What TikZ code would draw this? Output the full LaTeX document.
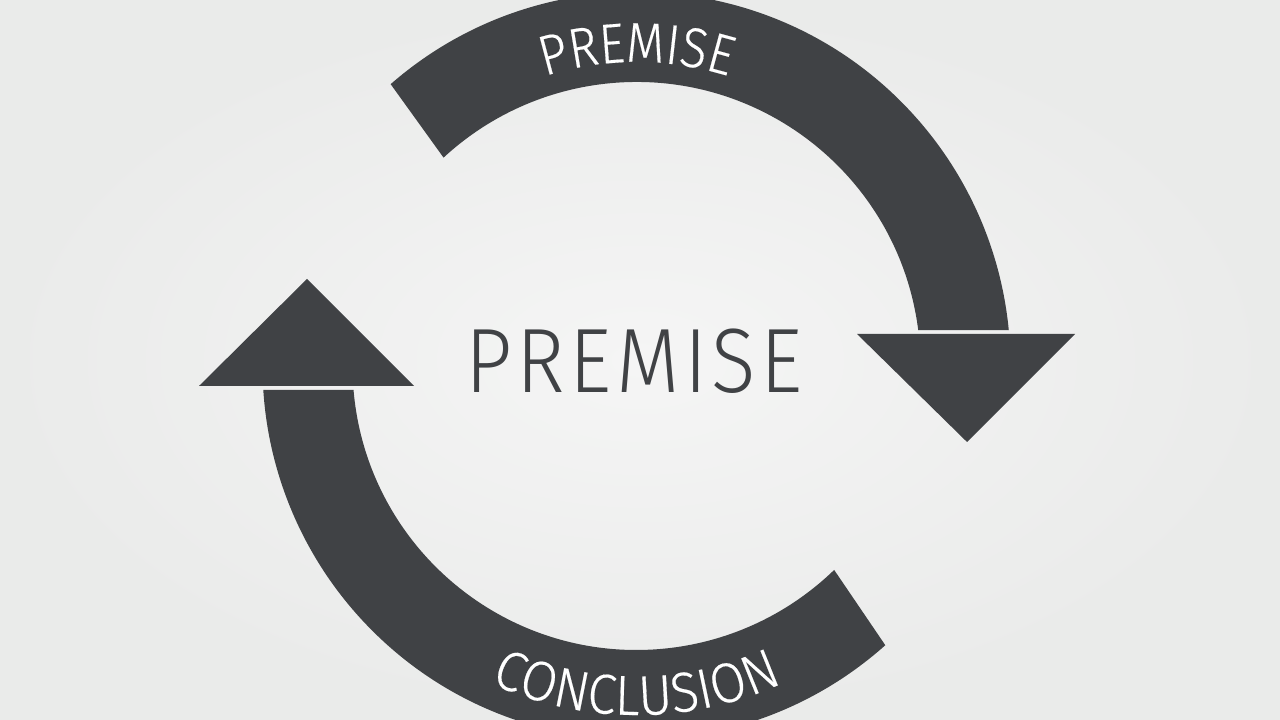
\documentclass[tikz,border=0pt]{standalone}
\usepackage{fontspec}
\setmainfont{Fira Sans}
\newfontfamily\premfont{Fira Sans}[UprightFont=* Light, FakeStretch=0.9, LetterSpace=5]
\newfontfamily\topfont{Fira Sans}[UprightFont=* Light, FakeStretch=0.88, FakeBold=0.3]
\newfontfamily\botfont{Fira Sans}[UprightFont=* Light, FakeStretch=0.93, FakeBold=0.3]
\usetikzlibrary{decorations.text}
\definecolor{arrowgray}{HTML}{404245}
\definecolor{bgcenter}{HTML}{F5F5F5}
\definecolor{bgedge}{HTML}{EAEBEA}

\begin{document}
\begin{tikzpicture}

  \useasboundingbox (0,0) rectangle (12.8,7.2);
  \shade[inner color=bgcenter, outer color=bgedge] (0,0) rectangle (12.8,7.2);

  \begin{scope}[shift={(6.365,3.54)}]
    \coordinate (c) at (0,0);

    % upper band and its head
    \fill[arrowgray] (131.1:3.74) arc[start angle=131.1, end angle=5.52, radius=3.74]
      -- (7.28:2.84) arc[start angle=7.28, end angle=132.8, radius=2.84] -- cycle;
    \fill[arrowgray] (2.205,0.32) -- (4.385,0.32) -- (3.305,-0.76) -- cycle;

    % lower band and its head
    \fill[arrowgray] (-48.3:3.74) arc[start angle=-48.3, end angle=-176.32, radius=3.74]
      -- (-175.15:2.84) arc[start angle=-175.15, end angle=-45.9, radius=2.84] -- cycle;
    \fill[arrowgray] (-4.375,-0.20) -- (-2.225,-0.20) -- (-3.295,0.87) -- cycle;

    % texts on the bands
    \path[decorate, decoration={text along path, text align=center, text color=white,
      text={|\topfont\fontsize{16}{16}\selectfont|PREMISE}}]
      (120:3.04) arc[start angle=120, end angle=60, radius=3.04];
    \path[decorate, decoration={text along path, text align=center, text color=white,
      text={|\botfont\fontsize{16}{16}\selectfont|CONCLUSION}}]
      (-125:3.49) arc[start angle=-125, end angle=-55, radius=3.49];

    \node[inner sep=0, text=arrowgray, font=\premfont\fontsize{26}{26}\selectfont]
      (premise) at (-0.025,0.045) {PREMISE};
  \end{scope}

\end{tikzpicture}
\end{document}
